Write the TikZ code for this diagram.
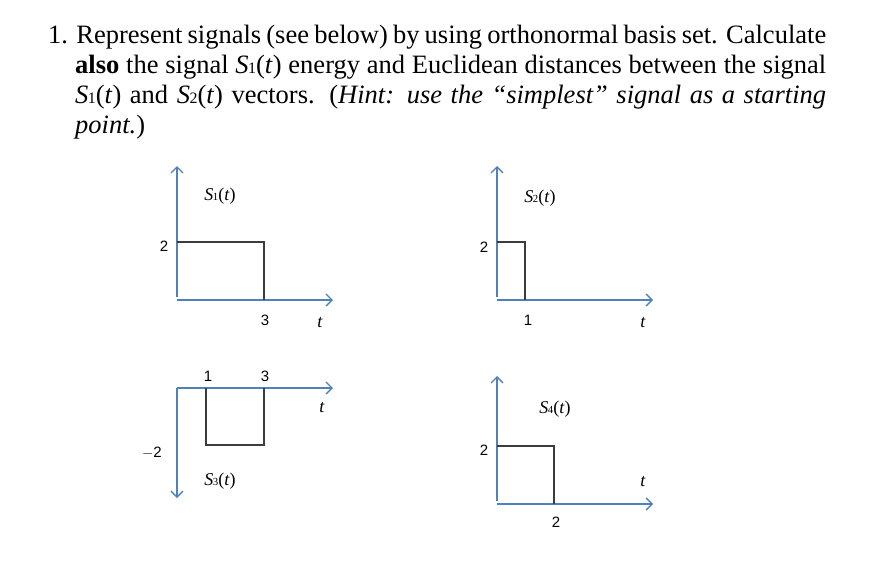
\documentclass[tikz,border=0pt]{standalone}
\usepackage{fontspec}
\setmainfont{Liberation Serif}
\setsansfont{Liberation Sans}
\usetikzlibrary{arrows.meta}
\newcommand{\sig}[1]{\textit{S}\kern-0.5pt{\fontsize{0.6em}{1em}\selectfont #1}(\textit{t})}
\begin{document}
\begin{tikzpicture}[x=1pt,y=-1pt,
  axis/.style={draw={rgb,255:red,79;green,129;blue,189},line width=1.3pt,-{Straight Barb[length=6pt,width=12pt]}},
  wave/.style={draw={rgb,255:red,60;green,60;blue,60},line width=1.1pt},
  num/.style={font=\sffamily\fontsize{15}{15}\selectfont,inner sep=0},
  lab/.style={font=\fontsize{18}{18}\selectfont,inner sep=0}]
\useasboundingbox (0,0) rectangle (881,573);
\node[anchor=north west,inner sep=0,text width=778pt,align=justify,font=\fontsize{26.5}{30}\selectfont] (txt) at (48,25)
 {\hangindent=27pt\hangafter=1 1. Represent signals (see below) by using orthonormal basis set. Calculate \textbf{also} the signal \sig{1} energy and Euclidean distances between the signal \sig{1} and \sig{2} vectors. (\textit{Hint: use the ``simplest'' signal as a starting point.})\par};
% plot 1
\coordinate (o1) at (177,300);
\draw[axis] (177,297) -- (177,166) coordinate (y1);
\draw[axis] (o1) -- (333,300) coordinate (x1);
\draw[wave] (177,242) -- (264,242) -- (264,300);
\node[num] (a1) at (164,246) {2};
\node[num] (b1) at (265,320) {3};
\node[lab] (t1) at (320,323) {\textit{t}};
\node[lab] (s1) at (220,196) {\sig{1}};
% plot 3
\coordinate (o3) at (177,388);
\draw[axis] (o3) -- (333,388) coordinate (x3);
\draw[axis] (o3) -- (177,498) coordinate (y3);
\draw[wave] (206,388) -- (206,445) -- (264,445) -- (264,388);
\node[num] (a3) at (208,376) {1};
\node[num] (b3) at (265,376) {3};
\node[lab] (t3) at (322,408) {\textit{t}};
\node[num] (c3) at (152,453) {$-$2};
\node[lab] (s3) at (220,481) {\sig{3}};
% plot 2
\coordinate (o2) at (497,300);
\draw[axis] (497,297) -- (497,166) coordinate (y2);
\draw[axis] (o2) -- (653,300) coordinate (x2);
\draw[wave] (497,242) -- (525,242) -- (525,300);
\node[num] (a2) at (484,247) {2};
\node[num] (b2) at (528,320) {1};
\node[lab] (t2) at (643,323) {\textit{t}};
\node[lab] (s2) at (540,198) {\sig{2}};
% plot 4
\coordinate (o4) at (497,504);
\draw[axis] (497,501) -- (497,376) coordinate (y4);
\draw[axis] (o4) -- (653,504) coordinate (x4);
\draw[wave] (497,446) -- (554,446) -- (554,504);
\node[num] (a4) at (484,450) {2};
\node[num] (b4) at (556,522) {2};
\node[lab] (t4) at (643,482) {\textit{t}};
\node[lab] (s4) at (555,409) {\sig{4}};
\end{tikzpicture}
\end{document}
